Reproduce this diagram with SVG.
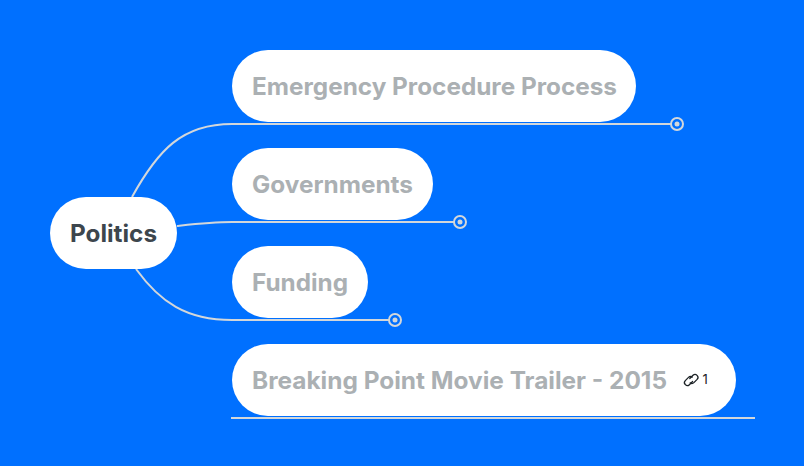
<svg xmlns="http://www.w3.org/2000/svg" width="804" height="466" viewBox="0 0 804 466">
<style>
.n{fill:#fff}
.t{font-family:Inter,"Noto Sans","Liberation Sans",sans-serif;font-weight:700;font-size:24px;fill:#abb0b3}
.c{fill:none;stroke:#d3d7da;stroke-width:2}
.e{fill:#0070ff;stroke:#d3d7da;stroke-width:2}
.d{fill:#d3d7da}
</style>
<rect width="804" height="466" fill="#0070ff"/>
<g id="connectors">
<path class="c" d="M132 197C158 150 182 124 232 124H671"/>
<path class="c" d="M177 226C195 224 212 222 232 222H454"/>
<path class="c" d="M136 269C160 302 186 320 232 320H389"/>
<path class="c" d="M231 418H755"/>
<circle class="e" cx="677" cy="124" r="6"/><circle class="d" cx="677" cy="124" r="2.500"/>
<circle class="e" cx="460" cy="222" r="6"/><circle class="d" cx="460" cy="222" r="2.500"/>
<circle class="e" cx="395" cy="320" r="6"/><circle class="d" cx="395" cy="320" r="2.500"/>
</g>
<g id="root"><rect class="n" x="50" y="197" width="127" height="72" rx="36"/>
<text x="70" y="241.500" textLength="87" lengthAdjust="spacingAndGlyphs" style="font-family:Inter,'Noto Sans',sans-serif;font-weight:700;font-size:24px;fill:#3d464d">Politics</text></g>
<g id="node1"><rect class="n" x="232" y="50" width="404" height="72" rx="36"/>
<text class="t" x="252" y="94.500" textLength="365" lengthAdjust="spacingAndGlyphs">Emergency Procedure Process</text></g>
<g id="node2"><rect class="n" x="232" y="148" width="201" height="72" rx="36"/>
<text class="t" x="252" y="192.500" textLength="161" lengthAdjust="spacingAndGlyphs">Governments</text></g>
<g id="node3"><rect class="n" x="232" y="246" width="136" height="72" rx="36"/>
<text class="t" x="252" y="290.500" textLength="96" lengthAdjust="spacingAndGlyphs">Funding</text></g>
<g id="node4"><rect class="n" x="232" y="344" width="504" height="72" rx="36"/>
<text class="t" x="252" y="388.500" textLength="415" lengthAdjust="spacingAndGlyphs">Breaking Point Movie Trailer - 2015</text>
<g fill="none" stroke="#1c2226" stroke-width="1.300" stroke-linecap="round"><path d="M689.800 378.500l3.200-3.200a2.900 2.900 0 0 1 4.100 4.100l-3.200 3.200a2.900 2.900 0 0 1-3.700.3"/><path d="M692.600 381.500l-3.200 3.200a2.900 2.900 0 0 1-4.100-4.100l3.200-3.200a2.900 2.900 0 0 1 3.700-.3"/></g>
<text x="702.500" y="384" style="font-family:Inter,'Noto Sans',sans-serif;font-size:13px;fill:#1c2226">1</text></g>
</svg>
